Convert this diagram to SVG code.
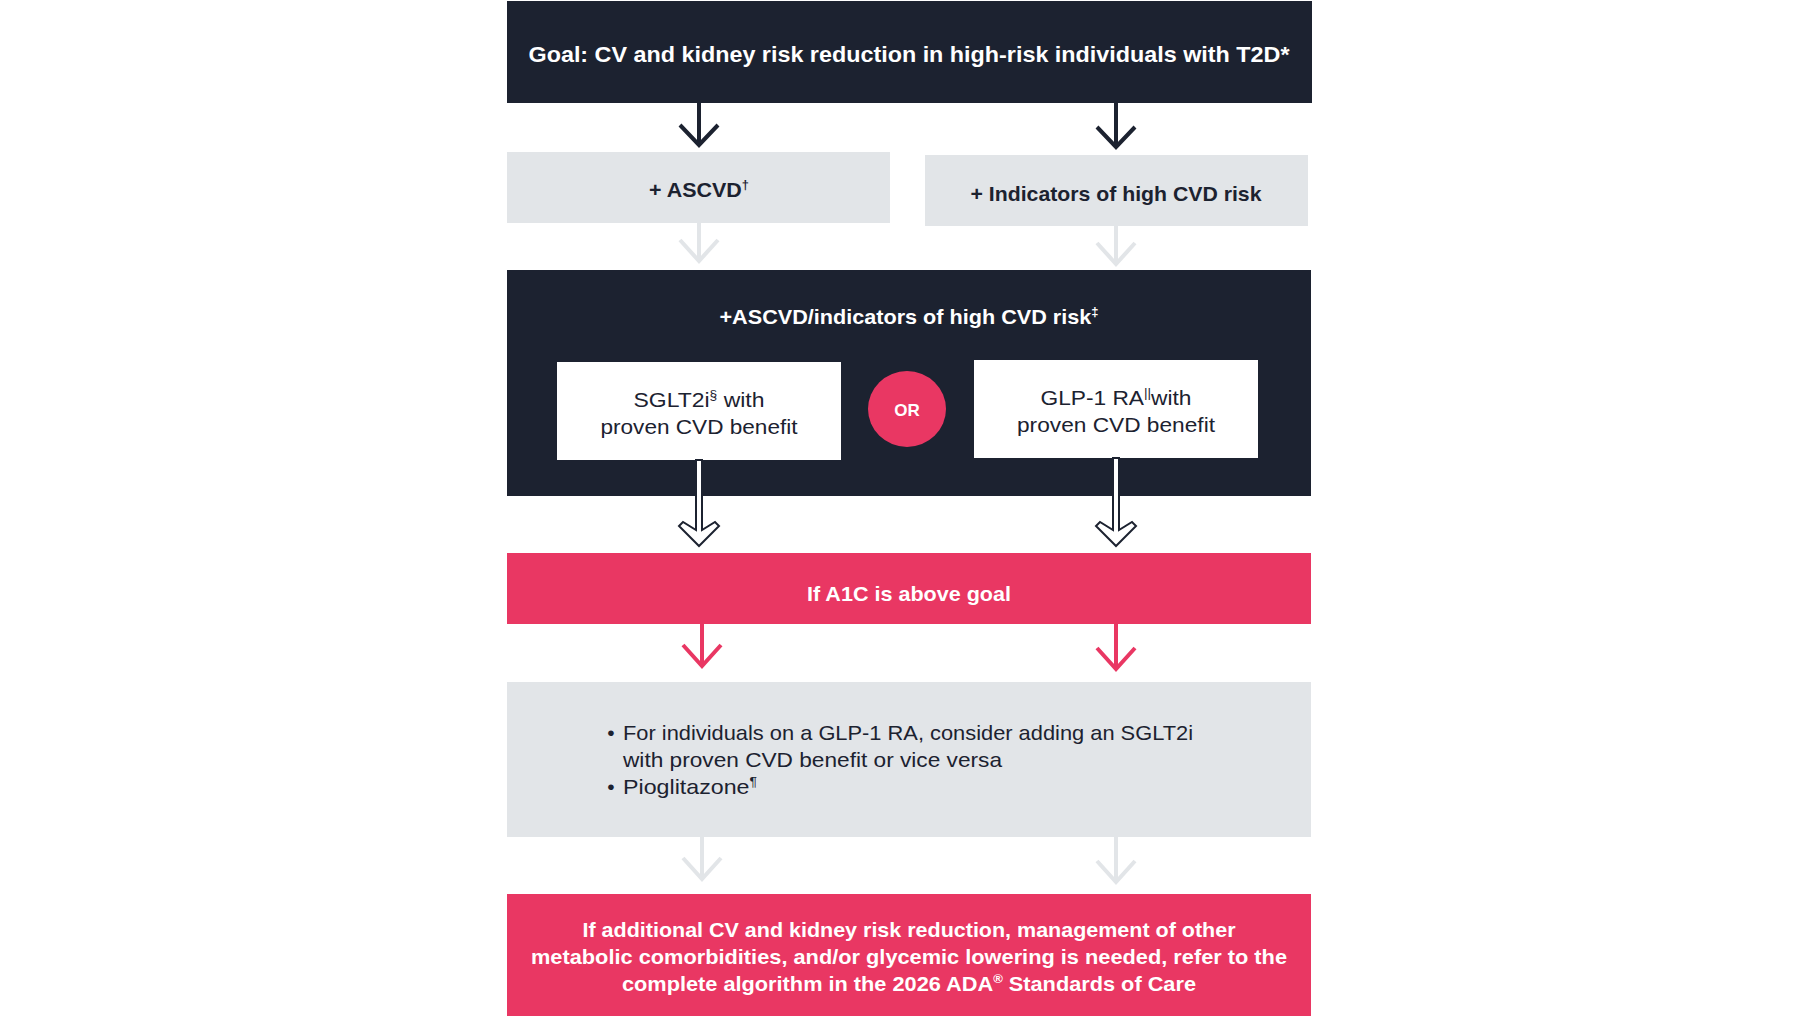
<svg xmlns="http://www.w3.org/2000/svg" width="1808" height="1017" viewBox="0 0 1808 1017">
<style>
text{font-family:"Liberation Sans",Arial,sans-serif;text-anchor:middle}
.w{fill:#fff}.k{fill:#1c2230}
.b{font-weight:bold}
.s{font-size:60%}
.dk{stroke:#1c2230;stroke-width:4;fill:none}
.gr{stroke:#e2e5e8;stroke-width:4;fill:none}
.pk{stroke:#e93763;stroke-width:4;fill:none}
.ow{stroke:#1c2230;stroke-width:2;fill:#fff}
</style>
<rect width="1808" height="1017" fill="#fff"/>
<g id="goal"><rect x="507" y="1" width="805" height="102" fill="#1c2230"/>
<text class="w b" x="909" y="62" font-size="22" textLength="761" lengthAdjust="spacingAndGlyphs">Goal: CV and kidney risk reduction in high-risk individuals with T2D*</text></g>
<g id="ascvd"><rect x="507" y="152" width="383" height="71" fill="#e2e5e8"/>
<text class="k b" x="699" y="197" font-size="21" textLength="100" lengthAdjust="spacingAndGlyphs">+ ASCVD<tspan class="s" dy="-8">†</tspan></text></g>
<g id="indicators"><rect x="925" y="155" width="383" height="71" fill="#e2e5e8"/>
<text class="k b" x="1116" y="201" font-size="21" textLength="291" lengthAdjust="spacingAndGlyphs">+ Indicators of high CVD risk</text></g>
<g id="combined"><rect x="507" y="270" width="804" height="226" fill="#1c2230"/>
<text class="w b" x="909" y="324" font-size="21" textLength="379" lengthAdjust="spacingAndGlyphs">+ASCVD/indicators of high CVD risk<tspan class="s" dy="-8">‡</tspan></text></g>
<g id="sglt2i"><rect x="557" y="362" width="284" height="98" fill="#fff"/>
<text class="k" x="699" y="407" font-size="21" textLength="131" lengthAdjust="spacingAndGlyphs">SGLT2i<tspan class="s" dy="-8">§</tspan><tspan dy="8"> with</tspan></text>
<text class="k" x="699" y="434" font-size="21" textLength="197" lengthAdjust="spacingAndGlyphs">proven CVD benefit</text></g>
<g id="or"><ellipse cx="907" cy="409" rx="39" ry="38" fill="#e93763"/>
<text class="w b" x="907" y="416" font-size="17">OR</text></g>
<g id="glp1"><rect x="974" y="360" width="284" height="98" fill="#fff"/>
<text class="k" x="1116" y="405" font-size="21" textLength="151" lengthAdjust="spacingAndGlyphs">GLP-1 RA<tspan class="s" dy="-8">||</tspan><tspan dy="8">with</tspan></text>
<text class="k" x="1116" y="432" font-size="21" textLength="198" lengthAdjust="spacingAndGlyphs">proven CVD benefit</text></g>
<g id="a1c"><rect x="507" y="553" width="804" height="71" fill="#e93763"/>
<text class="w b" x="909" y="601" font-size="21" textLength="204" lengthAdjust="spacingAndGlyphs">If A1C is above goal</text></g>
<g id="options"><rect x="507" y="682" width="804" height="155" fill="#e2e5e8"/>
<text class="k" x="611" y="740" font-size="21">•</text>
<text class="k" x="623" y="740" font-size="21" style="text-anchor:start" textLength="570" lengthAdjust="spacingAndGlyphs">For individuals on a GLP-1 RA, consider adding an SGLT2i</text>
<text class="k" x="623" y="767" font-size="21" style="text-anchor:start" textLength="379" lengthAdjust="spacingAndGlyphs">with proven CVD benefit or vice versa</text>
<text class="k" x="611" y="794" font-size="21">•</text>
<text class="k" x="623" y="794" font-size="21" style="text-anchor:start" textLength="134" lengthAdjust="spacingAndGlyphs">Pioglitazone<tspan class="s" dy="-8">¶</tspan></text></g>
<g id="additional"><rect x="507" y="894" width="804" height="122" fill="#e93763"/>
<text class="w b" x="909" y="937" font-size="21" textLength="653" lengthAdjust="spacingAndGlyphs">If additional CV and kidney risk reduction, management of other</text>
<text class="w b" x="909" y="964" font-size="21" textLength="756" lengthAdjust="spacingAndGlyphs">metabolic comorbidities, and/or glycemic lowering is needed, refer to the</text>
<text class="w b" x="909" y="991" font-size="21" textLength="574" lengthAdjust="spacingAndGlyphs">complete algorithm in the 2026 ADA<tspan class="s" dy="-8">®</tspan><tspan dy="8"> Standards of Care</tspan></text></g>
<g id="connectors">
<path class="dk" d="M699 103V143M680 125L699 145L718 125"/>
<path class="dk" d="M1116 103V145M1097 127L1116 147L1135 127"/>
<path class="gr" d="M699 223V260M680 240L699 261L718 240"/>
<path class="gr" d="M1116 226V263M1097 243L1116 264L1135 243"/>
<path class="ow" d="M696 460V530L683 522L679 526L699 546L719 526L715 522L702 530V460Z"/>
<path class="ow" d="M1113 458V530L1100 522L1096 526L1116 546L1136 526L1132 522L1119 530V458Z"/>
<path class="pk" d="M702 624V665M683 645L702 666L721 645"/>
<path class="pk" d="M1116 624V668M1097 648L1116 669L1135 648"/>
<path class="gr" d="M702 837V878M683 858L702 879L721 858"/>
<path class="gr" d="M1116 837V881M1097 861L1116 882L1135 861"/>
</g>
</svg>
